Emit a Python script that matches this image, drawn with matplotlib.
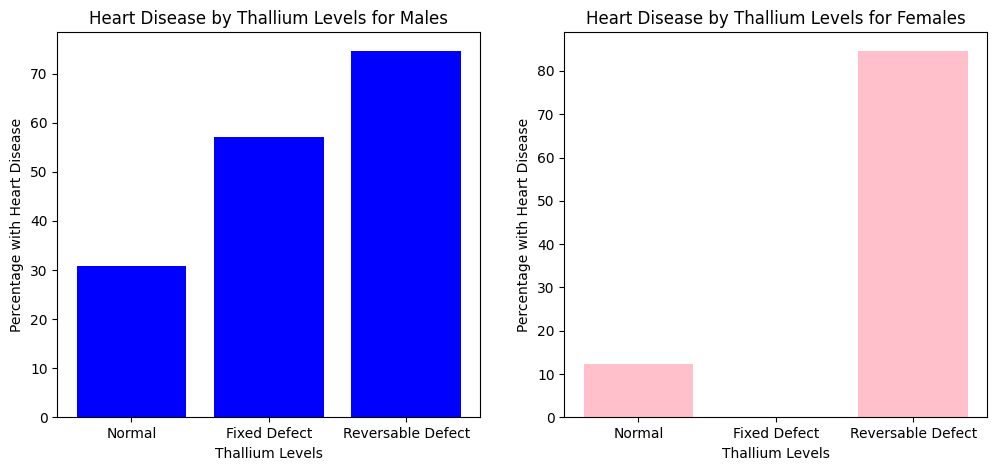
import matplotlib
matplotlib.use("Agg")
import matplotlib.pyplot as plt

categories = ["Normal", "Fixed Defect", "Reversable Defect"]
male_values = [30.8, 57.2, 74.7]
female_values = [12.2, 0.0, 84.7]

W, H = 996, 470
fig = plt.figure(figsize=(W / 100, H / 100), dpi=100)

def rect(x0, x1, y0, y1):
    return [x0 / W, 1 - y1 / H, (x1 - x0) / W, (y1 - y0) / H]

ax1 = fig.add_axes(rect(57.3, 480.3, 32.3, 417.3))
ax2 = fig.add_axes(rect(564.3, 987.3, 32.3, 417.3))

ax1.bar(categories, male_values, color="blue")
ax1.set_title("Heart Disease by Thallium Levels for Males")
ax1.set_xlabel("Thallium Levels")
ax1.set_ylabel("Percentage with Heart Disease")

ax2.bar(categories, female_values, color="pink")
ax2.set_title("Heart Disease by Thallium Levels for Females")
ax2.set_xlabel("Thallium Levels")
ax2.set_ylabel("Percentage with Heart Disease")

fig.savefig("out.png", dpi=100)
